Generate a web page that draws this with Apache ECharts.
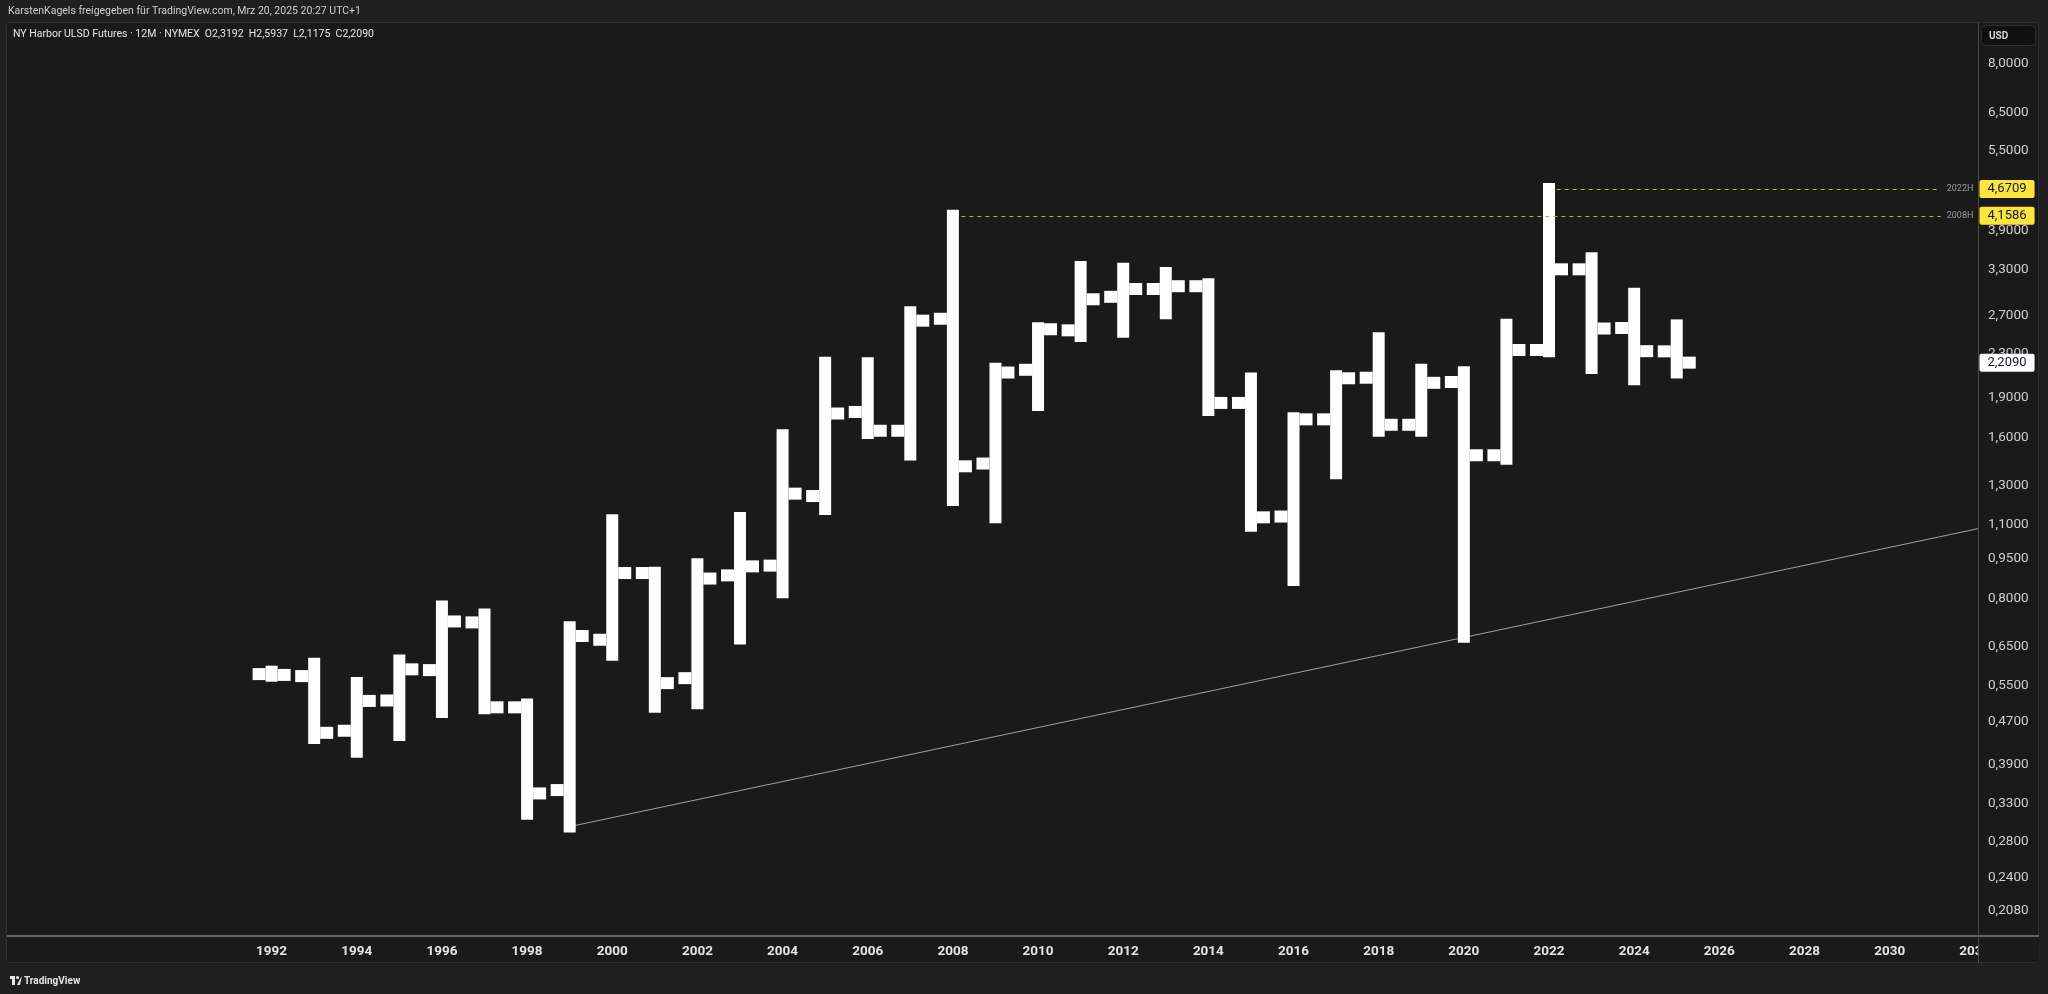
<!DOCTYPE html>
<html>
<head>
<meta charset="utf-8">
<title>NY Harbor ULSD Futures · 12M</title>
<script src="https://cdn.jsdelivr.net/npm/echarts@6.0.0/dist/echarts.min.js"></script>
<style>
  html, body { margin: 0; padding: 0; background: #202020; overflow: hidden; }
  #panel { position: absolute; left: 6px; top: 22px; width: 2033px; height: 941px; background: #1a1a1a; border: 1px solid #2e2e2e; border-radius: 4px; box-sizing: border-box; }
  #chart { position: absolute; left: 0; top: 0; width: 2048px; height: 994px; }
</style>
</head>
<body>
<div id="panel"></div>
<div id="chart"></div>
<script>
// ---- data (yearly OHLC bars) ----
const years = [1992, 1993, 1994, 1995, 1996, 1997, 1998, 1999, 2000, 2001, 2002, 2003, 2004, 2005, 2006, 2007, 2008,
  2009, 2010, 2011, 2012, 2013, 2014, 2015, 2016, 2017, 2018, 2019, 2020, 2021, 2022, 2023, 2024, 2025];
const openPrices = [0.577, 0.572, 0.452, 0.515, 0.587, 0.721, 0.500, 0.350, 0.669, 0.892, 0.567, 0.883, 0.921, 1.243, 1.786, 1.647, 2.669,
  1.430, 2.142, 2.539, 2.934, 3.034, 3.071, 1.857, 1.138, 1.730, 2.070, 1.690, 2.032, 1.482, 2.333, 3.303, 2.565, 2.3192];
const highPrices = [0.583, 0.603, 0.555, 0.612, 0.772, 0.746, 0.506, 0.706, 1.120, 0.893, 0.926, 1.131, 1.615, 2.208, 2.203, 2.744, 4.1586,
  2.152, 2.561, 3.336, 3.312, 3.251, 3.097, 2.062, 1.738, 2.083, 2.453, 2.143, 2.119, 2.602, 4.6709, 3.464, 2.974, 2.5937];
const lowPrices = [0.573, 0.438, 0.413, 0.444, 0.490, 0.498, 0.316, 0.299, 0.627, 0.501, 0.509, 0.673, 0.821, 1.175, 1.631, 1.486, 1.222,
  1.134, 1.840, 2.477, 2.524, 2.733, 1.801, 1.094, 0.866, 1.371, 1.647, 1.647, 0.678, 1.460, 2.319, 2.158, 2.056, 2.1175];
const closePrices = [0.575, 0.448, 0.514, 0.589, 0.724, 0.500, 0.345, 0.680, 0.892, 0.555, 0.871, 0.918, 1.256, 1.774, 1.647, 2.647, 1.413,
  2.117, 2.551, 2.903, 3.034, 3.071, 1.857, 1.134, 1.730, 2.065, 1.690, 2.025, 1.482, 2.333, 3.303, 2.559, 2.321, 2.2090];

const xTickYears = [1992, 1994, 1996, 1998, 2000, 2002, 2004, 2006, 2008, 2010, 2012, 2014, 2016, 2018, 2020, 2022, 2024, 2026, 2028, 2030, 2032];
const yTickValues = [0.208, 0.24, 0.28, 0.33, 0.39, 0.47, 0.55, 0.65, 0.8, 0.95, 1.1, 1.3, 1.6, 1.9, 2.3, 2.7, 3.3, 3.9, 5.5, 6.5, 8];

const trendLinePoints = [[1999, 0.299], [2032.075, 1.08]];
const highLineNames = ['2008H', '2022H'];
const highLineStarts = [2008.2, 2022.18];
const highLineValues = [4.1586, 4.6709];
const highLineEnd = 2031.2;
const lastClose = 2.2090;

// ---- layout ----
const X_MIN = 1985.762, X_MAX = 2032.075;
const Y_MIN = 0.1866, Y_MAX = 9.591;

const fmt = v => Number(v).toFixed(4).replace('.', ',');
const barData = years.map((y, i) => [y, openPrices[i], highPrices[i], lowPrices[i], closePrices[i]]);

const chart = echarts.init(document.getElementById('chart'), null, { renderer: 'canvas' });

const priceMarks = highLineValues.map((v, i) => ({
  coord: [X_MAX, v], value: v,
  label: { backgroundColor: '#fbe73b', color: '#131722' }
}));
priceMarks.push({
  coord: [X_MAX, lastClose], value: lastClose,
  label: { backgroundColor: '#ffffff', color: '#131722' }
});

const option = {
  backgroundColor: 'transparent',
  animation: false,
  textStyle: { fontFamily: 'Roboto, "Liberation Sans", sans-serif' },
  grid: { left: 6, right: 70, top: 22, bottom: 58, containLabel: false, outerBoundsMode: 'none' },
  xAxis: {
    type: 'value', min: X_MIN, max: X_MAX,
    axisLine: { show: false }, axisTick: { show: false }, splitLine: { show: false },
    axisLabel: {
      customValues: xTickYears, margin: 9, color: '#e4e4e4', fontSize: 13.5, fontWeight: 'bold',
      formatter: v => String(Math.round(v))
    }
  },
  yAxis: {
    type: 'log', logBase: 10, min: Y_MIN, max: Y_MAX, position: 'right',
    axisLine: { show: false }, axisTick: { show: false }, splitLine: { show: false }, minorSplitLine: { show: false },
    axisLabel: {
      customValues: yTickValues, margin: 10, color: '#cfcfcf', fontSize: 13.5,
      formatter: v => fmt(v)
    }
  },
  series: [
    {
      type: 'line', name: 'trend', data: trendLinePoints, symbol: 'none', z: 1, silent: true,
      lineStyle: { color: '#a3a3a3', width: 1 },
      markLine: {
        silent: true, symbol: ['none', 'none'], animation: false,
        lineStyle: { color: '#c9b12c', width: 1, type: [4, 4] },
        label: { show: true, position: 'end', distance: 6, color: '#9a9ca3', fontSize: 9, formatter: p => p.name },
        data: highLineValues.map((v, i) => [
          { coord: [highLineStarts[i], v], name: highLineNames[i] },
          { coord: [highLineEnd, v] }
        ])
      },
      markPoint: {
        silent: true, symbol: 'rect', symbolSize: 1, animation: false,
        itemStyle: { color: 'rgba(0,0,0,0)' },
        label: {
          show: true, position: 'right', distance: 1, fontSize: 13, lineHeight: 13,
          padding: [3, 8, 2, 8], borderRadius: 2,
          formatter: p => fmt(p.value)
        },
        data: priceMarks
      }
    },
    {
      type: 'custom', name: 'NY Harbor ULSD', data: barData, z: 3,
      encode: { x: 0, y: [1, 2, 3, 4] },
      renderItem: function (params, api) {
        const x = api.value(0);
        const o = api.coord([x, api.value(1)]);
        const h = api.coord([x, api.value(2)]);
        const l = api.coord([x, api.value(3)]);
        const c = api.coord([x, api.value(4)]);
        const bw = 12, tw = 13, th = 12;
        const cx = o[0];
        const st = { fill: '#ffffff' };
        return {
          type: 'group',
          children: [
            { type: 'rect', shape: { x: cx - bw / 2, y: h[1] - th / 2, width: bw, height: l[1] - h[1] + th }, style: st },
            { type: 'rect', shape: { x: cx - bw / 2 - tw, y: o[1] - th / 2, width: tw, height: th }, style: st },
            { type: 'rect', shape: { x: cx + bw / 2, y: c[1] - th / 2, width: tw, height: th }, style: st }
          ]
        };
      }
    }
  ],
  graphic: [
    { type: 'rect', z: 50, shape: { x: 1979, y: 937, width: 60, height: 25 }, style: { fill: '#1a1a1a' } },
    { type: 'line', z: 60, shape: { x1: 1978.5, y1: 23, x2: 1978.5, y2: 963 }, style: { stroke: '#4a4a4a', lineWidth: 1 } },
    { type: 'line', z: 60, shape: { x1: 7, y1: 936, x2: 2039, y2: 936 }, style: { stroke: '#666666', lineWidth: 2 } },
    { type: 'rect', z: 60, shape: { x: 1981.5, y: 25.5, width: 54, height: 20, r: 4 }, style: { fill: '#101010', stroke: '#2f2f2f', lineWidth: 1 } },
    { type: 'text', z: 61, style: { text: 'USD', x: 1989, y: 36, fill: '#d1d4dc', font: 'bold 10px Roboto, sans-serif', verticalAlign: 'middle', textVerticalAlign: 'middle' } },
    { type: 'text', z: 61, style: { text: 'KarstenKagels freigegeben für TradingView.com, Mrz 20, 2025 20:27 UTC+1', x: 8, y: 11, fill: '#cfcfcf', font: '10.5px Roboto, sans-serif', verticalAlign: 'middle', textVerticalAlign: 'middle' } },
    { type: 'text', z: 61, style: { text: 'NY Harbor ULSD Futures · 12M · NYMEX  O2,3192  H2,5937  L2,1175  C2,2090', x: 13, y: 34, fill: '#e6e6e6', font: '10.5px Roboto, sans-serif', verticalAlign: 'middle', textVerticalAlign: 'middle' } },
    { type: 'rect', z: 61, shape: { x: 10, y: 976, width: 5, height: 3 }, style: { fill: '#e6e6e6' } },
    { type: 'rect', z: 61, shape: { x: 12, y: 976, width: 3, height: 9 }, style: { fill: '#e6e6e6' } },
    { type: 'circle', z: 61, shape: { cx: 17.5, cy: 977.5, r: 1.6 }, style: { fill: '#e6e6e6' } },
    { type: 'polygon', z: 61, shape: { points: [[17, 985], [19.5, 980], [22, 976], [22, 976], [20, 985]] }, style: { fill: '#e6e6e6' } },
    { type: 'text', z: 61, style: { text: 'TradingView', x: 24, y: 981, fill: '#e6e6e6', font: 'bold 10px Roboto, sans-serif', verticalAlign: 'middle', textVerticalAlign: 'middle' } }
  ]
};

chart.setOption(option);
</script>
</body>
</html>
